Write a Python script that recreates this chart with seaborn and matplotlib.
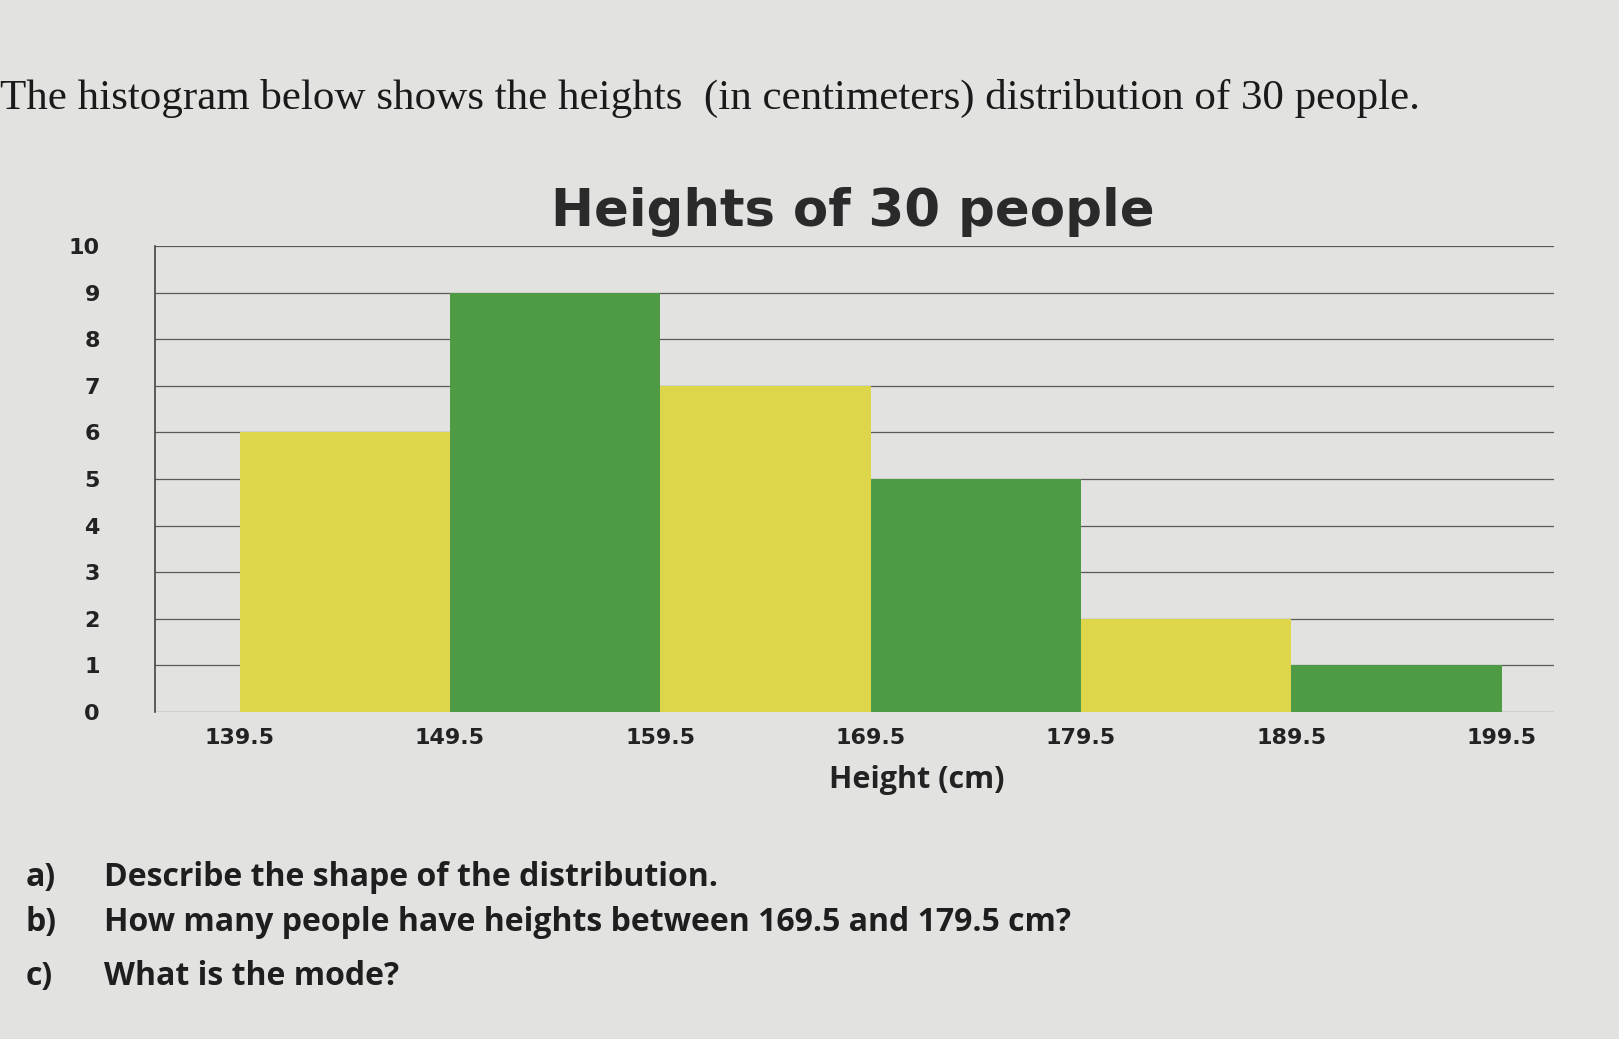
import numpy as np
import pandas as pd
import seaborn as sns
import matplotlib.pyplot as plt

edges = [139.5, 149.5, 159.5, 169.5, 179.5, 189.5, 199.5]
counts = [6, 9, 7, 5, 2, 1]
bar_colors = ['#ddd64a', '#4f9a45']

heading = 'The histogram below shows the heights  (in centimeters) distribution of 30 people.'
chart_title = 'Heights of 30 people'
x_label = 'Height (cm)'
questions = [('a)', 'Describe the shape of the distribution.'),
             ('b)', 'How many people have heights between 169.5 and 179.5 cm?'),
             ('c)', 'What is the mode?')]

df = pd.DataFrame({'mid': [(a + b) / 2 for a, b in zip(edges[:-1], edges[1:])],
                   'count': counts})

sns.set_style('white')
bg = '#e2e2e0'
fig = plt.figure(figsize=(16.19, 10.39), dpi=100, facecolor=bg)
ax = fig.add_axes([0.096, 0.315, 0.864, 0.448], facecolor=bg)

sns.histplot(data=df, x='mid', weights='count', bins=edges, ax=ax,
             edgecolor='none', linewidth=0, alpha=1, zorder=3)
for i, p in enumerate(ax.patches):
    p.set_facecolor(bar_colors[i % 2])

ax.set_xlim(135.5, 202)
ax.set_ylim(0, 10)
ax.set_yticks(range(0, 11))
ax.set_xticks(edges)
ax.set_xticklabels([f'{e:.1f}' for e in edges])
ax.grid(axis='y', color='#5a5a5a', linewidth=0.9, zorder=1)
ax.grid(axis='x', visible=False)
for s in ['top', 'right', 'bottom']:
    ax.spines[s].set_visible(False)
ax.spines['left'].set_color('#444444')
ax.spines['left'].set_linewidth(1.2)
ax.tick_params(axis='y', length=0, pad=40, labelsize=16, labelcolor='#222222')
ax.tick_params(axis='x', length=0, pad=12, labelsize=16, labelcolor='#222222')
for t in ax.get_xticklabels() + ax.get_yticklabels():
    t.set_fontweight('bold')
ax.set_xlabel('')
ax.set_ylabel('')

fig.text(0.0, 0.905, heading, family='Liberation Serif', fontsize=31,
         color='#1a1a1a', ha='left', va='center')
fig.text(0.527, 0.796, chart_title, family='DejaVu Sans', fontweight='bold',
         fontsize=37, color='#2a2a2a', ha='center', va='center')
fig.text(0.566, 0.249, x_label, family='Open Sans', fontweight='bold',
         fontsize=22, color='#222222', ha='center', va='center')

for (lab, txt), y in zip(questions, [0.155, 0.112, 0.06]):
    fig.text(0.016, y, lab, family='Open Sans', fontweight='bold', fontsize=23,
             color='#1e1e1e', ha='left', va='center')
    fig.text(0.064, y, txt, family='Open Sans', fontweight='bold', fontsize=23,
             color='#1e1e1e', ha='left', va='center')

fig.savefig('out.png', dpi=100, facecolor=bg)
